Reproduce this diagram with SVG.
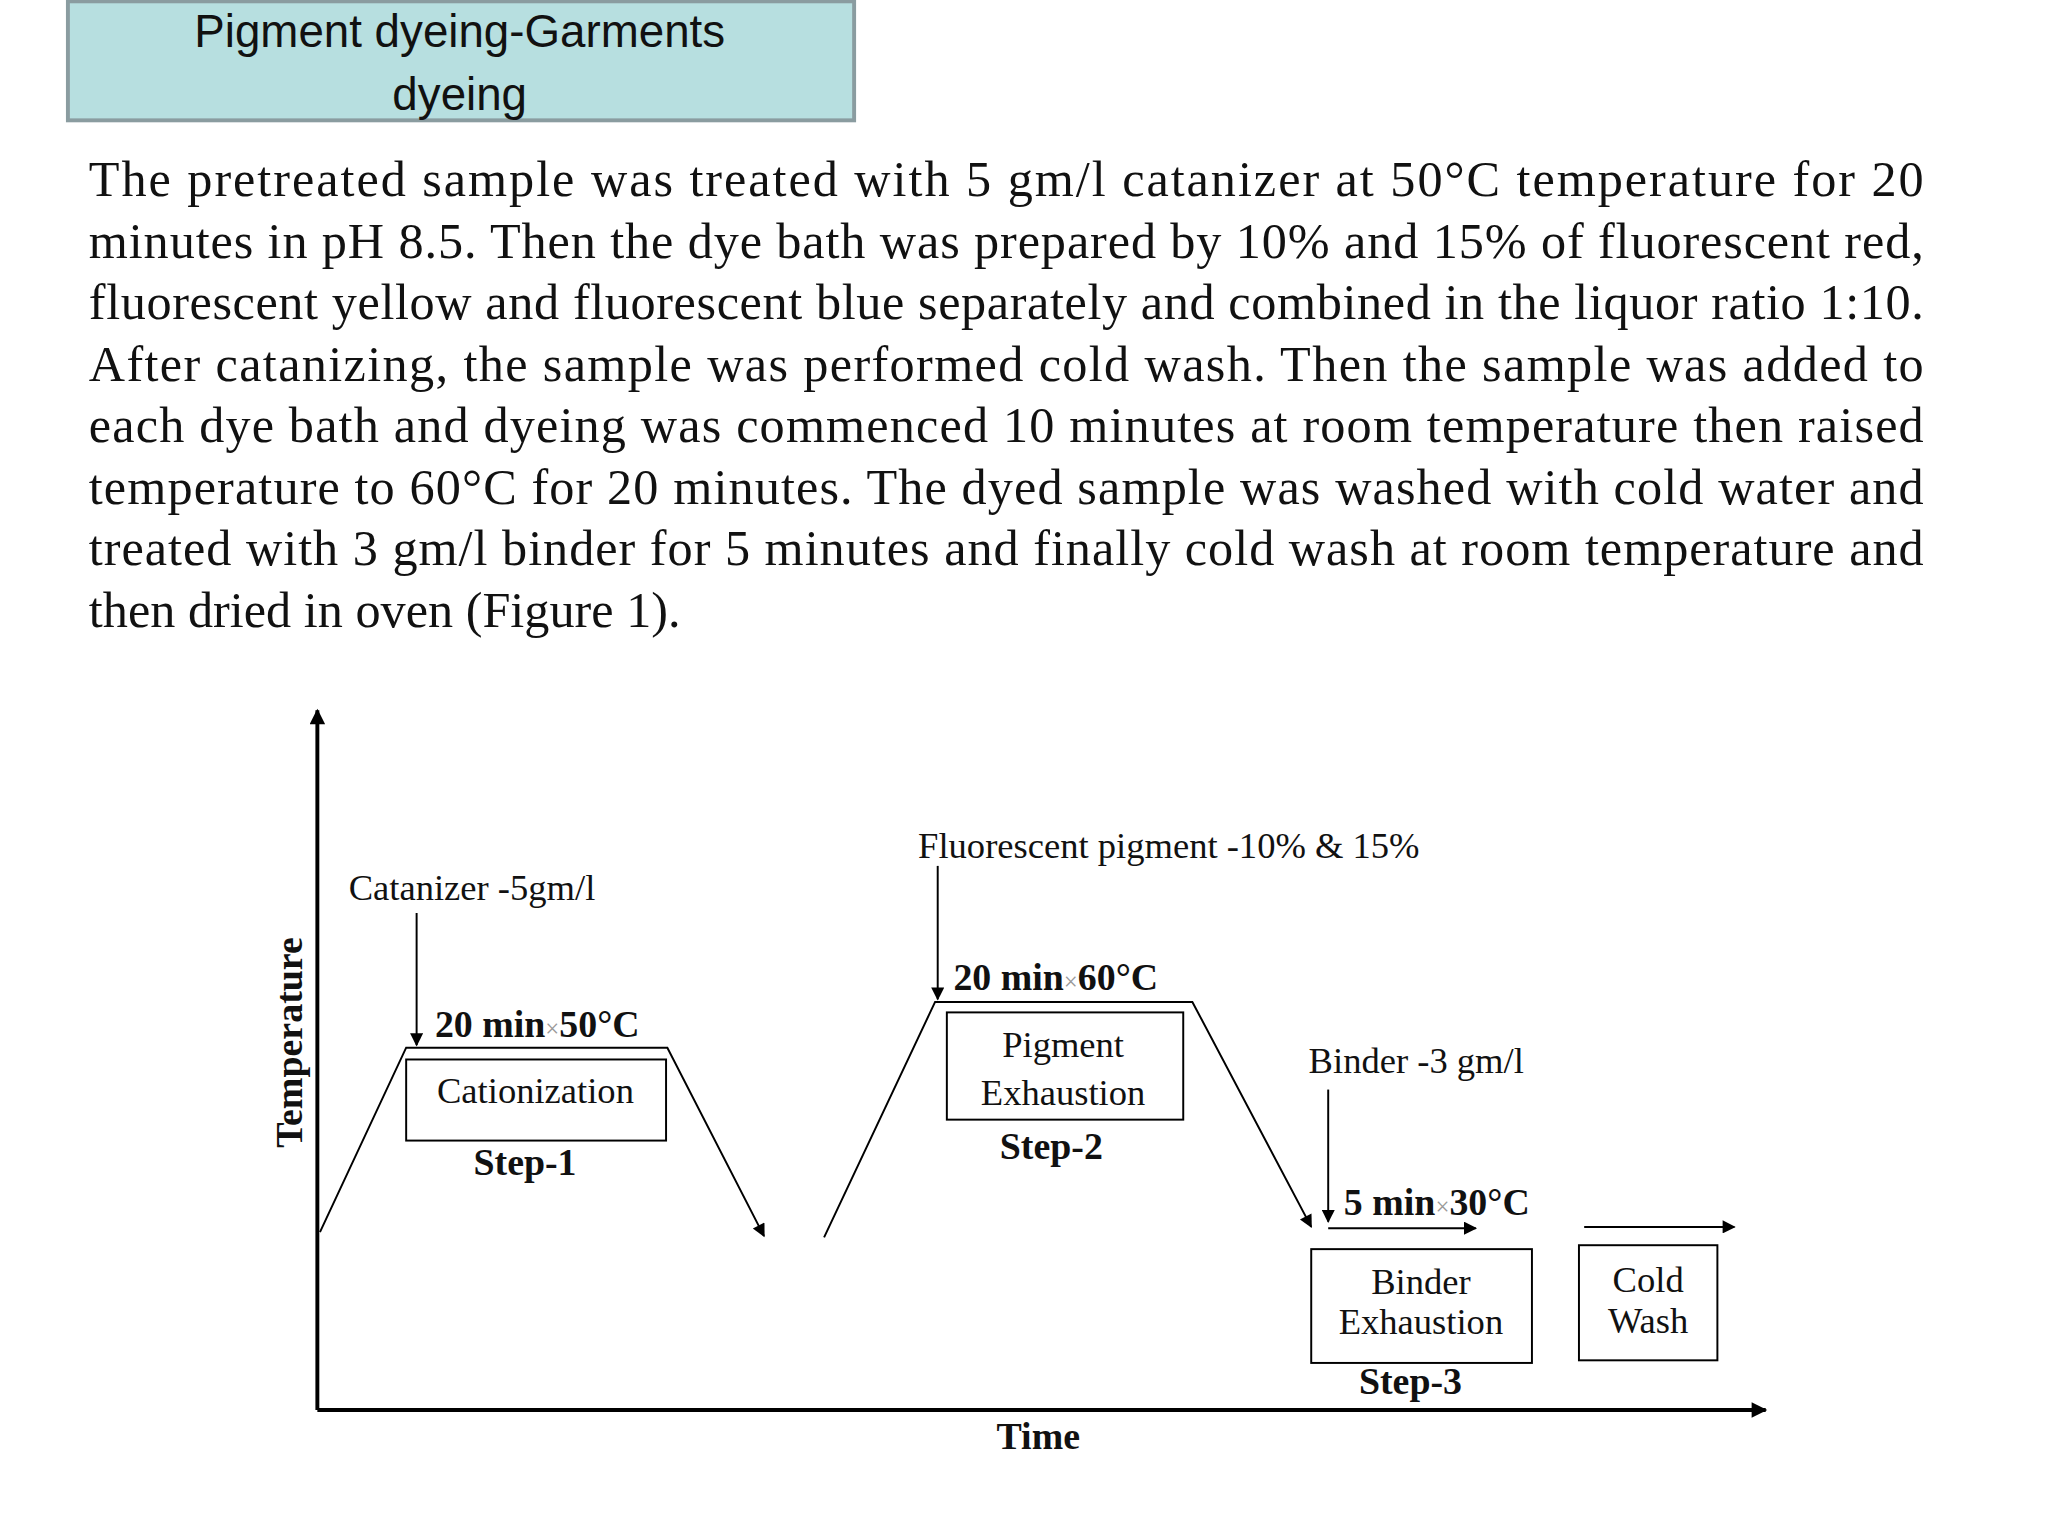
<svg xmlns="http://www.w3.org/2000/svg" width="2048" height="1536" viewBox="0 0 2048 1536">
<defs>
<marker id="ah" viewBox="0 0 10 10" refX="9" refY="5" markerWidth="12" markerHeight="10" markerUnits="userSpaceOnUse" orient="auto"><path d="M0,0 L10,5 L0,10 z" fill="#000"/></marker>
<marker id="ahs" viewBox="0 0 10 10" refX="9" refY="5" markerWidth="14" markerHeight="12" markerUnits="userSpaceOnUse" orient="auto"><path d="M0,0 L10,5 L0,10 z" fill="#000"/></marker>
<style>
.p{font-family:"Liberation Serif",serif;font-size:38.5px;fill:#111}
.d{font-family:"Liberation Serif",serif;font-size:28px;fill:#111}
.b{font-family:"Liberation Serif",serif;font-size:29px;font-weight:bold;fill:#111}
.m{text-anchor:middle}
.x{font-size:19px;fill:#999;font-weight:normal}
.ln{fill:none;stroke:#000;stroke-width:1.5}
.bx{fill:#fff;stroke:#000;stroke-width:1.5}
.ax{fill:none;stroke:#000;stroke-width:3}
</style>
</defs>
<rect width="2048" height="1536" fill="#fff"/>
<g transform="scale(1.306 1.308)">
<g id="title">
<rect x="52" y="1" width="602" height="91" fill="#b7dfe0" stroke="#8a9ca0" stroke-width="3"/>
<text x="352" y="36" text-anchor="middle" font-family="Liberation Sans, sans-serif" font-size="35" fill="#111">Pigment dyeing-Garments</text>
<text x="352" y="84" text-anchor="middle" font-family="Liberation Sans, sans-serif" font-size="35" fill="#111">dyeing</text>
</g>
<g id="paragraph" class="p">
<text x="68" y="150" textLength="1405" lengthAdjust="spacing">The pretreated sample was treated with 5 gm/l catanizer  at 50°C temperature for 20</text>
<text x="68" y="197" textLength="1405" lengthAdjust="spacing">minutes in pH 8.5. Then the dye bath was prepared by 10% and 15% of fluorescent red,</text>
<text x="68" y="244" textLength="1405" lengthAdjust="spacing">fluorescent yellow and fluorescent blue separately and combined in the liquor ratio 1:10.</text>
<text x="68" y="291" textLength="1405" lengthAdjust="spacing">After catanizing, the sample was performed cold wash. Then the sample was added to</text>
<text x="68" y="338" textLength="1405" lengthAdjust="spacing">each dye bath and dyeing was commenced 10 minutes at room temperature then raised</text>
<text x="68" y="385" textLength="1405" lengthAdjust="spacing">temperature to 60°C for 20 minutes. The dyed sample was washed with cold water and</text>
<text x="68" y="432" textLength="1405" lengthAdjust="spacing">treated with 3 gm/l binder for 5 minutes and finally cold wash at room temperature and</text>
<text x="68" y="479">then dried in oven (Figure 1).</text>
</g>
<g id="axes">
<line class="ax" x1="243" y1="1078" x2="243" y2="543" marker-end="url(#ahs)"/>
<line class="ax" x1="243" y1="1078" x2="1352" y2="1078" marker-end="url(#ahs)"/>
<text class="b" transform="translate(231,797) rotate(-90)" text-anchor="middle">Temperature</text>
<text class="b m" x="795" y="1108">Time</text>
</g>
<g id="connectors">
<polyline class="ln" points="245,942 311,801 511,801 585,945" marker-end="url(#ah)"/>
<line class="ln" x1="319" y1="698" x2="319" y2="799" marker-end="url(#ah)"/>
<polyline class="ln" points="631,946 716,766 913,766 1004,938" marker-end="url(#ah)"/>
<line class="ln" x1="718" y1="662" x2="718" y2="764" marker-end="url(#ah)"/>
<line class="ln" x1="1017" y1="833" x2="1017" y2="934" marker-end="url(#ah)"/>
<line class="ln" x1="1017" y1="939" x2="1130" y2="939" marker-end="url(#ah)"/>
<line class="ln" x1="1213" y1="938" x2="1328" y2="938" marker-end="url(#ah)"/>
</g>
<g id="step1">
<text class="d" x="267" y="688">Catanizer -5gm/l</text>
<text class="b" x="333" y="793">20 min<tspan class="x">×</tspan>50°C</text>
<rect class="bx" x="311" y="810" width="199" height="62"/>
<text class="d m" x="410" y="843">Cationization</text>
<text class="b m" x="402" y="898">Step-1</text>
</g>
<g id="step2">
<text class="d" x="703" y="656">Fluorescent pigment -10% &amp; 15%</text>
<text class="b" x="730" y="757">20 min<tspan class="x">×</tspan>60°C</text>
<rect class="bx" x="725" y="774" width="181" height="82"/>
<text class="d m" x="814" y="808">Pigment</text>
<text class="d m" x="814" y="845">Exhaustion</text>
<text class="b m" x="805" y="886">Step-2</text>
</g>
<g id="step3">
<text class="d" x="1002" y="820">Binder -3 gm/l</text>
<text class="b" x="1029" y="929">5 min<tspan class="x">×</tspan>30°C</text>
<rect class="bx" x="1004" y="955" width="169" height="87"/>
<text class="d m" x="1088" y="989">Binder</text>
<text class="d m" x="1088" y="1020">Exhaustion</text>
<text class="b m" x="1080" y="1066">Step-3</text>
</g>
<g id="coldwash">
<rect class="bx" x="1209" y="952" width="106" height="88"/>
<text class="d m" x="1262" y="988">Cold</text>
<text class="d m" x="1262" y="1019">Wash</text>
</g>
</g>
</svg>
